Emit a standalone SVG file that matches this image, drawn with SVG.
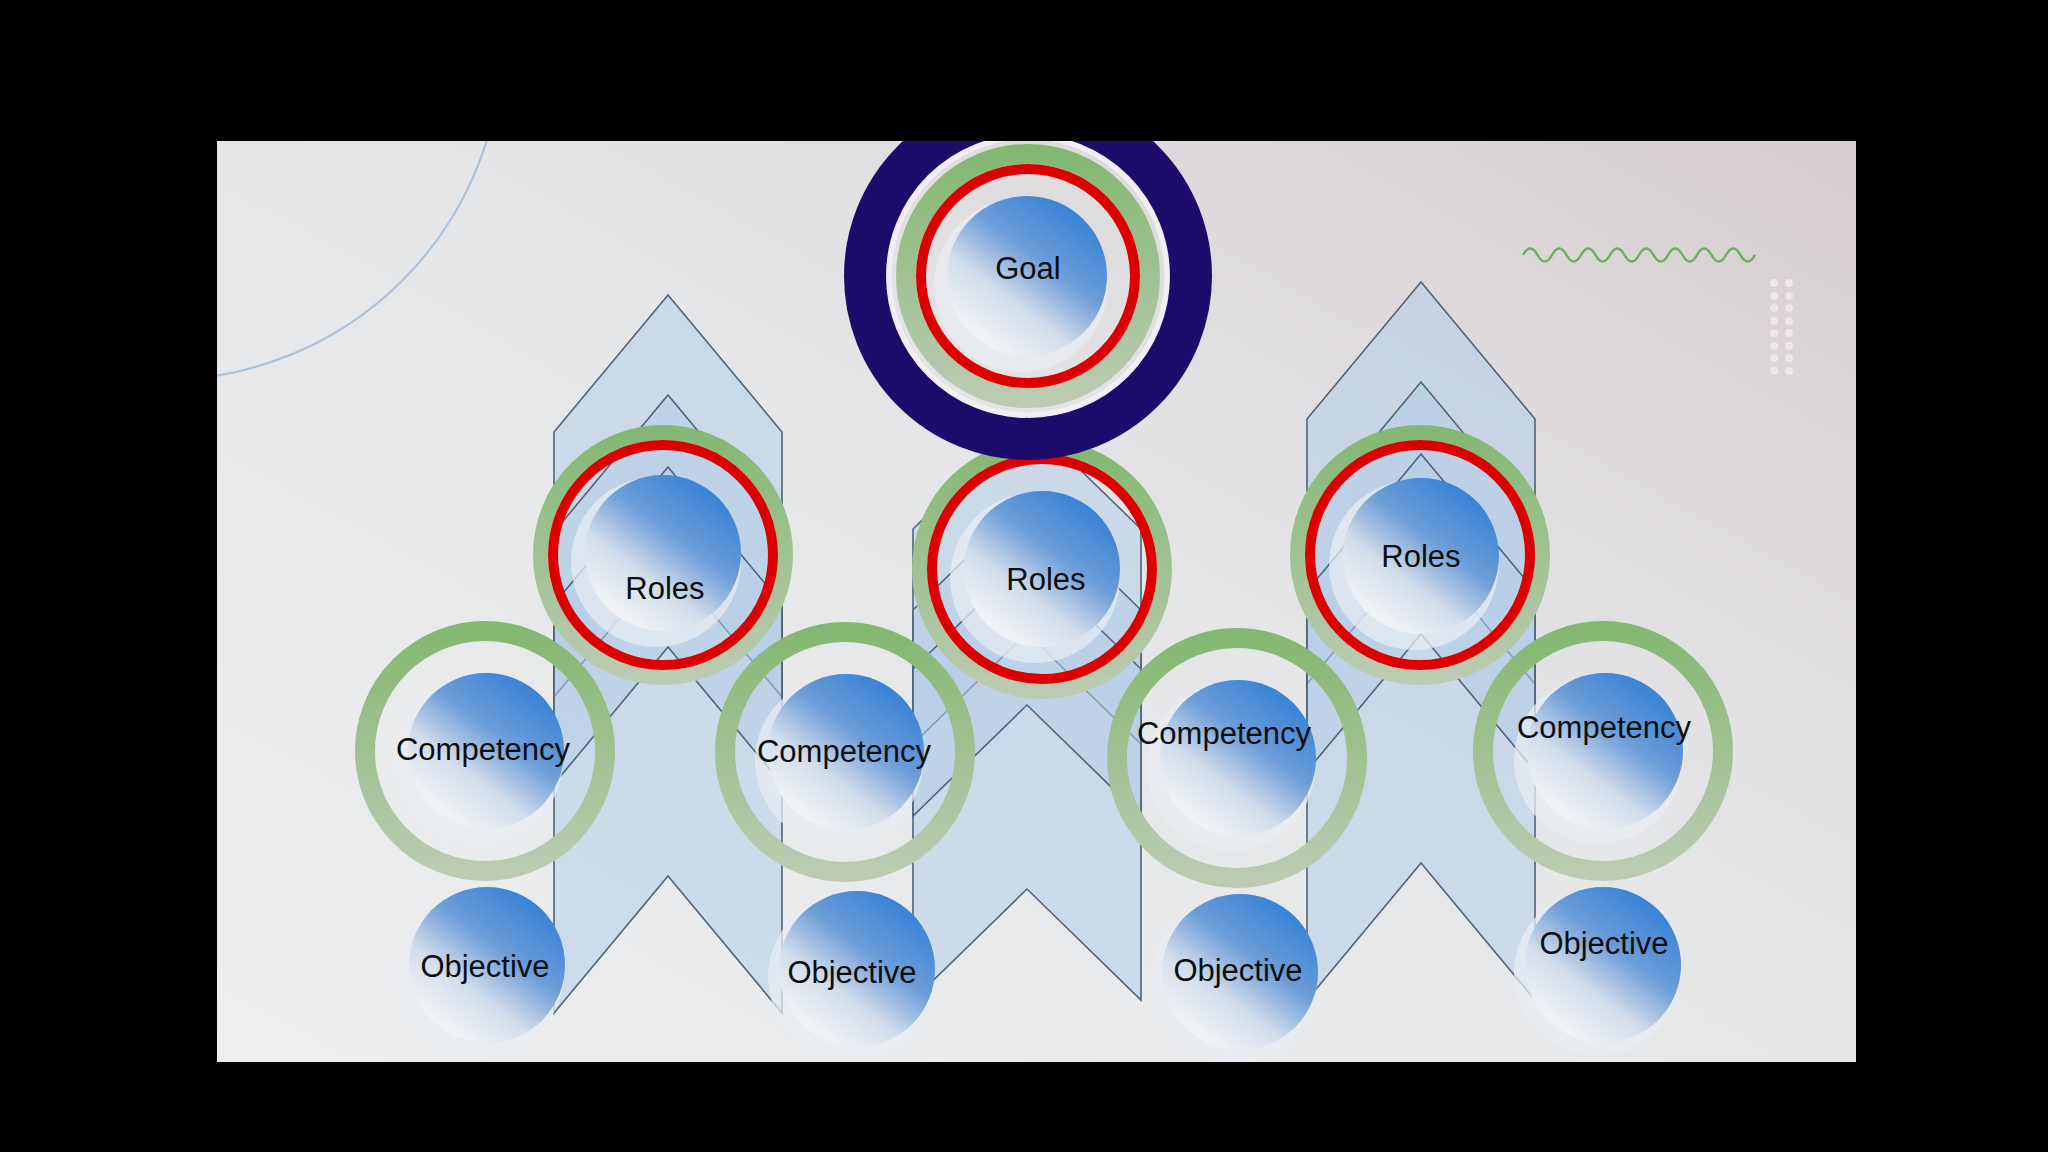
<svg xmlns="http://www.w3.org/2000/svg" width="2048" height="1152" viewBox="0 0 2048 1152">
<defs>
<style>
.t{font-family:"Liberation Sans",Arial,sans-serif;font-size:31px;fill:#0e0e0e;text-anchor:middle}
.chev{fill:#b4cde8;fill-opacity:0.55;stroke:#4f6478;stroke-width:1.6;stroke-linejoin:miter}
.gr{fill:none;stroke:url(#grn)}
.red{fill:none;stroke:#dc0000;stroke-width:10}
.halo{fill:#e8ecf1;opacity:0.75}
.sph{fill:url(#sph)}
</style>
<linearGradient id="bg" x1="0" y1="1" x2="1" y2="0">
<stop offset="0" stop-color="#eceef0"/>
<stop offset="0.55" stop-color="#e5e6e8"/>
<stop offset="1" stop-color="#d6cdd0"/>
</linearGradient>
<linearGradient id="sph" x1="0.85" y1="0.1" x2="0.25" y2="0.9">
<stop offset="0" stop-color="#3481d6"/>
<stop offset="0.4" stop-color="#6d9dd8"/>
<stop offset="0.72" stop-color="#d3deeb"/>
<stop offset="1" stop-color="#eff1f4"/>
</linearGradient>
<linearGradient id="grn" x1="0" y1="0" x2="0" y2="1">
<stop offset="0" stop-color="#84b872"/>
<stop offset="1" stop-color="#bccbb2"/>
</linearGradient>
<clipPath id="panel"><rect x="217" y="141" width="1639" height="921"/></clipPath>
</defs>
<rect width="2048" height="1152" fill="#000"/>
<g clip-path="url(#panel)">
<rect x="217" y="141" width="1639" height="921" fill="url(#bg)"/>
<g id="decor">
<circle cx="162" cy="40" r="340" fill="none" stroke="#a9c3dc" stroke-width="2.2"/>
<path d="M1523,255 q7.25,-13 14.5,0 t14.5,0 t14.5,0 t14.5,0 t14.5,0 t14.5,0 t14.5,0 t14.5,0 t14.5,0 t14.5,0 t14.5,0 t14.5,0 t14.5,0 t14.5,0 t14.5,0 t14.5,0" fill="none" stroke="#6caf5e" stroke-width="2.5"/>
<g fill="#f3e9ee" opacity="0.9">
<circle cx="1774" cy="283" r="4"/><circle cx="1789" cy="283" r="4"/>
<circle cx="1774" cy="296" r="4"/><circle cx="1789" cy="296" r="4"/>
<circle cx="1774" cy="308" r="4"/><circle cx="1789" cy="308" r="4"/>
<circle cx="1774" cy="321" r="4"/><circle cx="1789" cy="321" r="4"/>
<circle cx="1774" cy="333" r="4"/><circle cx="1789" cy="333" r="4"/>
<circle cx="1774" cy="346" r="4"/><circle cx="1789" cy="346" r="4"/>
<circle cx="1774" cy="358" r="4"/><circle cx="1789" cy="358" r="4"/>
<circle cx="1774" cy="371" r="4"/><circle cx="1789" cy="371" r="4"/>
</g>
</g>
<g id="connectors">
<g id="arrow-left">
<polygon class="chev" points="668,295 782,432 782,1013 668,876 554,1013 554,432"/>
<polygon class="chev" points="668,395 782,532 782,697 668,560 554,697 554,532"/>
<polygon class="chev" points="668,467 782,604 782,784 668,647 554,784 554,604"/>
</g>
<g id="arrow-middle">
<polygon class="chev" points="1027,418 1141,529 1141,1000 1027,889 913,1000 913,529"/>
<polygon class="chev" points="1027,499 1141,610 1141,744 1027,633 913,744 913,610"/>
<polygon class="chev" points="1027,558 1141,669 1141,816 1027,705 913,816 913,669"/>
</g>
<g id="arrow-right">
<polygon class="chev" points="1421,282 1535,419 1535,1000 1421,863 1307,1000 1307,419"/>
<polygon class="chev" points="1421,382 1535,519 1535,684 1421,547 1307,684 1307,519"/>
<polygon class="chev" points="1421,454 1535,591 1535,771 1421,634 1307,771 1307,591"/>
</g>
</g>
<g id="node-objective-1">
<circle class="halo" cx="481" cy="973" r="83"/>
<circle class="sph" cx="487" cy="965" r="78"/>
<text class="t" x="485" y="977">Objective</text>
</g>
<g id="node-objective-2">
<circle class="halo" cx="851" cy="977" r="83"/>
<circle class="sph" cx="857" cy="969" r="78"/>
<text class="t" x="852" y="983">Objective</text>
</g>
<g id="node-objective-3">
<circle class="halo" cx="1234" cy="980" r="83"/>
<circle class="sph" cx="1240" cy="972" r="78"/>
<text class="t" x="1238" y="981">Objective</text>
</g>
<g id="node-objective-4">
<circle class="halo" cx="1597" cy="973" r="83"/>
<circle class="sph" cx="1603" cy="965" r="78"/>
<text class="t" x="1604" y="954">Objective</text>
</g>
<g id="node-roles-1">
<circle class="halo" cx="656" cy="562" r="85"/>
<circle class="sph" cx="663" cy="553" r="78"/>
<circle class="gr" cx="663" cy="555" r="122.5" stroke-width="15"/>
<circle class="red" cx="663" cy="555" r="110"/>
<text class="t" x="665" y="599">Roles</text>
</g>
<g id="node-roles-2">
<circle class="halo" cx="1035" cy="578" r="85"/>
<circle class="sph" cx="1042" cy="569" r="78"/>
<circle class="gr" cx="1042" cy="569" r="122.5" stroke-width="15"/>
<circle class="red" cx="1042" cy="569" r="110"/>
<text class="t" x="1046" y="590">Roles</text>
</g>
<g id="node-roles-3">
<circle class="halo" cx="1414" cy="565" r="85"/>
<circle class="sph" cx="1421" cy="556" r="78"/>
<circle class="gr" cx="1420" cy="555" r="122.5" stroke-width="15"/>
<circle class="red" cx="1420" cy="555" r="110"/>
<text class="t" x="1421" y="567">Roles</text>
</g>
<g id="node-competency-1">
<circle class="halo" cx="479" cy="760" r="84"/>
<circle class="sph" cx="486" cy="751" r="78"/>
<circle class="gr" cx="485" cy="751" r="120" stroke-width="20"/>
<text class="t" x="483" y="760">Competency</text>
</g>
<g id="node-competency-2">
<circle class="halo" cx="839" cy="761" r="84"/>
<circle class="sph" cx="846" cy="752" r="78"/>
<circle class="gr" cx="845" cy="752" r="120" stroke-width="20"/>
<text class="t" x="844" y="762">Competency</text>
</g>
<g id="node-competency-3">
<circle class="halo" cx="1231" cy="767" r="84"/>
<circle class="sph" cx="1238" cy="758" r="78"/>
<circle class="gr" cx="1237" cy="758" r="120" stroke-width="20"/>
<text class="t" x="1224" y="744">Competency</text>
</g>
<g id="node-competency-4">
<circle class="halo" cx="1598" cy="760" r="84"/>
<circle class="sph" cx="1605" cy="751" r="78"/>
<circle class="gr" cx="1603" cy="751" r="120" stroke-width="20"/>
<text class="t" x="1604" y="738">Competency</text>
</g>
<g id="node-goal">
<circle cx="1028" cy="276" r="163" fill="none" stroke="#1d0b6c" stroke-width="42"/>
<circle cx="1028" cy="276" r="139" fill="none" stroke="#f1eef8" stroke-width="5"/>
<circle class="halo" cx="1021" cy="285" r="87"/>
<circle class="sph" cx="1027" cy="276" r="80"/>
<circle class="gr" cx="1028" cy="276" r="122" stroke-width="20"/>
<circle class="red" cx="1028" cy="276" r="107"/>
<text class="t" x="1028" y="279">Goal</text>
</g>
</g>
</svg>
